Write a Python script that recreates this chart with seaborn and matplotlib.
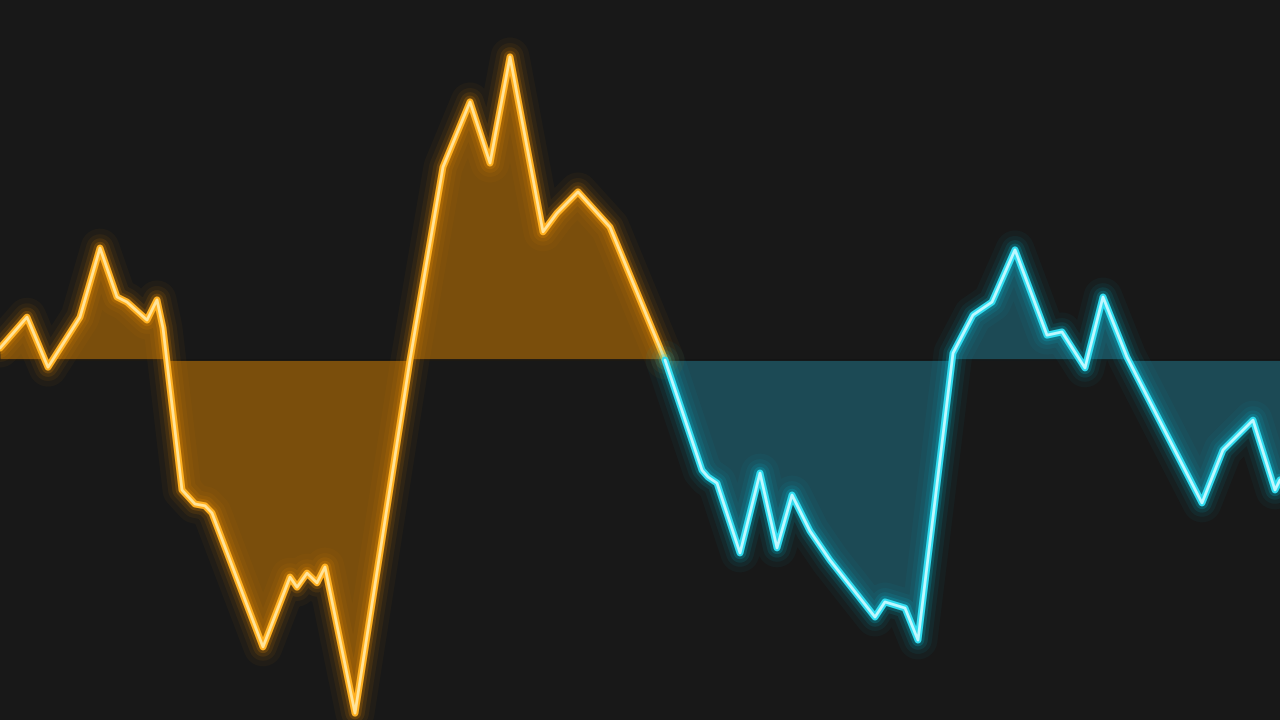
import numpy as np
import pandas as pd
import seaborn as sns
import matplotlib.pyplot as plt

# time index and signal value (baseline = 0)
t_warm = [0, 27, 48, 80, 100, 117, 127, 147, 157, 163, 182, 195, 205, 212,
          263, 290, 297, 307, 317, 325, 355, 410, 443, 470, 490, 510,
          543, 557, 578, 610, 665]
v_warm = [3.3, 11.9, -2.0, 11.9, 31.1, 17.5, 16.1, 11.1, 16.7, 8.9, -36.1, -40.0, -40.5, -42.5,
          -79.7, -60.3, -63.1, -59.2, -61.9, -57.5, -98.1, 0.0, 53.6, 71.7, 54.7, 84.2,
          35.6, 40.8, 46.7, 36.9, 0.0]

t_cool = [665, 702, 708, 717, 740, 760, 777, 792, 810, 830, 875, 885, 905, 918,
          953, 973, 992, 1015, 1047, 1062, 1085, 1103, 1127, 1202, 1223, 1253, 1275, 1280]
v_cool = [0.0, -30.6, -32.5, -34.2, -53.6, -31.4, -52.2, -37.5, -47.5, -55.6, -71.4, -67.2, -68.9, -77.8,
          1.9, 12.5, 16.1, 30.6, 6.9, 7.8, -2.2, 17.5, 0.8, -39.7, -25.0, -16.7, -36.1, -33.3]

warm = pd.DataFrame({"t": t_warm, "v": v_warm})
cool = pd.DataFrame({"t": t_cool, "v": v_cool})

sns.set_style("dark", {"axes.facecolor": "#181818", "figure.facecolor": "#181818"})

fig = plt.figure(figsize=(12.8, 7.2), dpi=100)
ax = fig.add_axes([0, 0, 1, 1])
ax.set_facecolor("#181818")

# filled area between signal and baseline
ax.fill_between(warm["t"], warm["v"], 0, color="#7a4e0c", lw=0)
ax.fill_between(cool["t"], cool["v"], 0, color="#1c4a55", lw=0)
ax.axhline(0, color="#141414", lw=1.2)

# neon glow: wide faint strokes underneath, bright core on top
def glow(df, color, core, center):
    for w, a in [(28, 0.04), (20, 0.06), (14, 0.10), (9, 0.18)]:
        sns.lineplot(data=df, x="t", y="v", ax=ax, color=color, lw=w, alpha=a,
                     sort=False, estimator=None, solid_joinstyle="round")
    sns.lineplot(data=df, x="t", y="v", ax=ax, color=core, lw=5,
                 sort=False, estimator=None, solid_joinstyle="round")
    sns.lineplot(data=df, x="t", y="v", ax=ax, color=center, lw=2,
                 sort=False, estimator=None, solid_joinstyle="round")

glow(warm, "#ff9800", "#ffb020", "#ffe49a")
glow(cool, "#00d4f0", "#30dcef", "#bff8ff")

ax.set_xlim(0, 1280)
ax.set_ylim(-100, 100)
ax.set_axis_off()

fig.savefig("out.png", dpi=100, facecolor="#181818")
